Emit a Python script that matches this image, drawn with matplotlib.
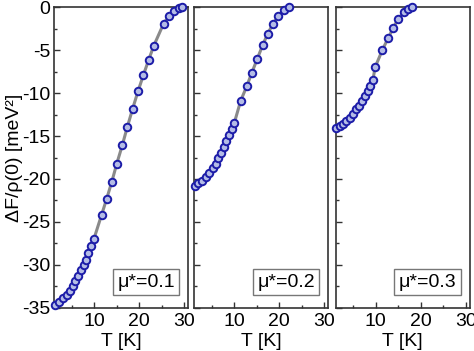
import matplotlib
matplotlib.use('Agg')
import matplotlib.pyplot as plt
from matplotlib.ticker import MultipleLocator

plt.rcParams['font.family'] = ['Liberation Sans', 'DejaVu Sans']
plt.rcParams['font.size'] = 14
plt.rcParams['axes.unicode_minus'] = False

# data (T in K, dF/rho(0) in meV^2)
T_mu01 = [1.27, 2.2, 3.1, 3.9, 4.6, 5.2, 5.8, 6.4, 7.0, 7.6, 8.2, 8.7, 9.3, 9.9,
          11.6, 12.75, 13.9, 15.0, 16.2, 17.3, 18.5, 19.7, 20.9, 22.1, 23.2,
          25.4, 26.6, 27.8, 28.8, 29.5]
F_mu01 = [-34.7, -34.3, -33.9, -33.5, -33.0, -32.5, -31.9, -31.3, -30.6, -30.0,
          -29.4, -28.6, -27.8, -27.0, -24.2, -22.3, -20.3, -18.2, -16.1, -14.0,
          -11.85, -9.8, -7.9, -6.1, -4.5, -1.9, -1.0, -0.45, -0.1, 0.0]

T_mu02 = [1.15, 2.0, 2.9, 3.7, 4.4, 5.2, 5.9, 6.4, 7.0, 7.6, 8.2, 8.75, 9.4, 10.0,
          11.4, 12.75, 13.9, 15.1, 16.3, 17.4, 18.6, 19.8, 21.0, 22.2]
F_mu02 = [-20.8, -20.5, -20.2, -19.8, -19.3, -18.75, -18.2, -17.6, -17.0, -16.3,
          -15.6, -14.9, -14.2, -13.45, -10.9, -9.2, -7.6, -6.0, -4.4, -3.1,
          -1.9, -1.0, -0.35, 0.0]

T_mu03 = [1.2, 2.0, 2.8, 3.5, 4.3, 4.9, 5.6, 6.3, 6.9, 7.6, 8.2, 8.8, 9.4, 9.85,
          11.5, 12.8, 13.9, 15.0, 16.2, 17.2, 18.1]
F_mu03 = [-14.1, -13.85, -13.6, -13.3, -12.9, -12.4, -11.9, -11.5, -10.9, -10.35,
          -9.8, -9.15, -8.45, -7.0, -4.95, -3.55, -2.4, -1.35, -0.6, -0.25, 0.0]

series = [(T_mu01, F_mu01, r'μ*=0.1'),
          (T_mu02, F_mu02, r'μ*=0.2'),
          (T_mu03, F_mu03, r'μ*=0.3')]

fig = plt.figure(figsize=(4.74, 3.51), dpi=100)
lefts = [0.1146, 0.41, 0.7082]

for i, (T, F, lab) in enumerate(series):
    ax = fig.add_axes([lefts[i], 0.1234, 0.2827, 0.8557])
    ax.plot(T, F, color='#8a8a8a', lw=2.2, zorder=2)
    ax.plot(T, F, 'o', ms=5.4, mfc='#b4bce6', mec='#1c1ca8', mew=1.4, zorder=3,
            clip_on=False)
    ax.set_xlim(1.1, 30.9)
    ax.set_ylim(-35, 0)
    ax.xaxis.set_major_locator(MultipleLocator(10))
    ax.xaxis.set_minor_locator(MultipleLocator(5))
    ax.yaxis.set_major_locator(MultipleLocator(5))
    ax.yaxis.set_minor_locator(MultipleLocator(2.5))
    ax.tick_params(which='both', direction='in', top=False, right=False,
                   color='#333333')
    ax.tick_params(which='major', length=4, width=1, labelsize=14)
    ax.tick_params(axis='x', which='major', pad=4)
    ax.tick_params(axis='y', which='major', pad=3)
    ax.tick_params(which='minor', length=2.5, width=1)
    for s in ax.spines.values():
        s.set_color('#333333')
        s.set_linewidth(1.2)
    ax.set_xticks([10, 20, 30])
    ax.set_xlabel('T [K]', fontsize=14, labelpad=2)
    if i == 0:
        ax.set_ylabel('ΔF/ρ(0) [meV²]', fontsize=14, labelpad=-1)
    else:
        ax.set_yticklabels([])
    ax.text(0.685, 0.085, lab, transform=ax.transAxes, ha='center', va='center',
            fontsize=14,
            bbox=dict(boxstyle='square,pad=0.22', fc='white', ec='#777777', lw=1))

fig.savefig('out.png', dpi=100)
